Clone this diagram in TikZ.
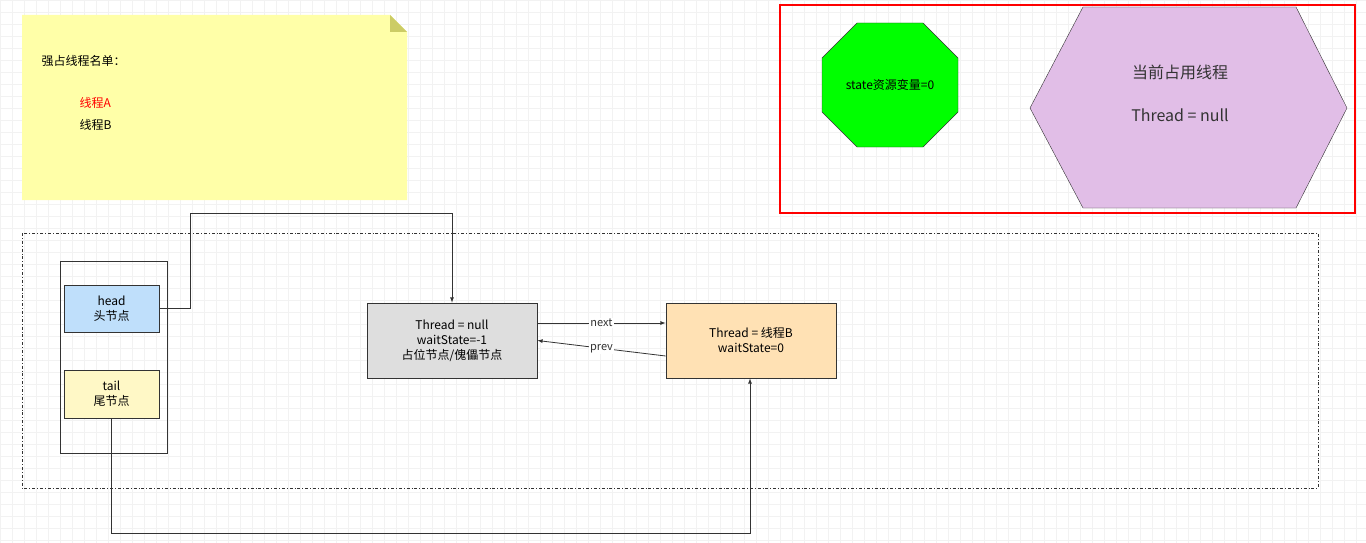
\documentclass[tikz,border=0pt]{standalone}
\usepackage{fontspec}
\setmainfont{Noto Sans CJK SC}
\usetikzlibrary{positioning}
\definecolor{notey}{HTML}{FFFFA8}
\definecolor{headb}{HTML}{BFDFFB}
\definecolor{taily}{HTML}{FFF8C6}
\definecolor{dummyg}{HTML}{DEDEDE}
\definecolor{nodeo}{HTML}{FFE1B4}
\definecolor{hexp}{HTML}{E1BEE7}
\definecolor{linec}{HTML}{333333}
\tikzset{box/.style={rectangle, draw=linec, thick, align=center, inner sep=0pt}}
\tikzset{link/.style={draw=linec, thick, -latex}}
\tikzset{tag/.style={fill=white, inner sep=1pt, font=\fontsize{11}{13}\selectfont, text=linec}}
\begin{document}
\begin{tikzpicture}[x=1pt, y=-1pt, font=\fontsize{12}{15}\selectfont]
  \useasboundingbox (0,0) rectangle (1366,543);
  \fill[white] (0,0) rectangle (1366,543);
  \draw[gray!10, step=12pt] (0,0) grid (1366,543);

  % note
  \fill[notey] (22,15) -- (390,15) -- (407,32) -- (407,200) -- (22,200) -- cycle;
  \fill[notey!60!olive] (390,15) -- (407,32) -- (390,32) -- cycle;
  \node[anchor=west] (title) at (38,61) {强占线程名单：};
  \node[anchor=west, text=red] (ta) at (76,103) {线程A};
  \node[anchor=west] (tb) at (76,125) {线程B};

  % state
  \draw[red, line width=2pt] (780,5) rectangle (1355,213);
  \draw[linec, fill=green] (857,23) -- (923,23) -- (958,58) -- (958,112) -- (923,147) -- (857,147) -- (822,112) -- (822,58) -- cycle;
  \node (state) at (890,85) {state资源变量=0};
  \draw[linec, fill=hexp] (1083,7) -- (1296,7) -- (1347,108) -- (1296,208) -- (1083,208) -- (1030,108) -- cycle;
  \node[font=\fontsize{16}{19}\selectfont, text=linec] (owner) at (1180,72) {当前占用线程};
  \node[font=\fontsize{16}{19}\selectfont, text=linec] (thr) at (1180,115) {Thread = null};

  % queue
  \draw[linec, thick, dash dot] (22,233) rectangle (1318,488);
  \draw[linec, thick] (60,261) rectangle (167,453);
  \node[box, fill=headb, minimum width=95, minimum height=47] (head) at (111.5,308.5) {head\\头节点};
  \node[box, fill=taily, minimum width=95, minimum height=48] (tail) at (111.5,394) {tail\\尾节点};
  \node[box, fill=dummyg, minimum width=170, minimum height=75] (dummy) at (452,340.5) {Thread = null\\waitState=-1\\占位节点/傀儡节点};
  \node[box, fill=nodeo, minimum width=170, minimum height=75] (nodeb) at (751,340.5) {Thread = 线程B\\waitState=0};

  \draw[link] (dummy.east |- 0,323) -- node[tag] {next} (nodeb.west |- 0,323);
  \draw[link] (nodeb.west |- 0,356) -- node[tag] {prev} (dummy.west -| dummy.east |- 0,356);
  \draw[link] (head.east) -- (190,308.5) -- (190,213) -- (452,213) -- (dummy.north);
  \draw[link] (tail.south) -- (111.5,533) -- (750,533) -- (nodeb.south -| 750,0);
\end{tikzpicture}
\end{document}
